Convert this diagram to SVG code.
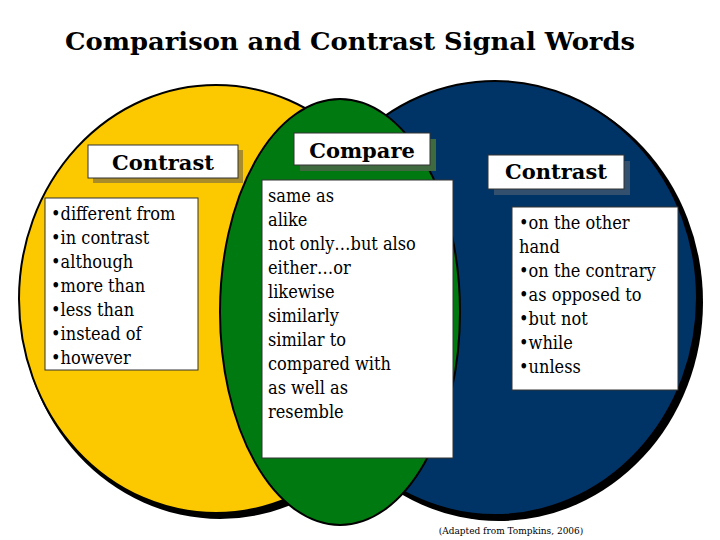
<svg xmlns="http://www.w3.org/2000/svg" width="720" height="540" viewBox="0 0 720 540">
<style>
.t{font-family:"DejaVu Serif Condensed","DejaVu Serif",serif;font-size:18px;fill:#000}
.h{font-family:"DejaVu Serif","Liberation Serif",serif;font-weight:bold;font-size:21px;fill:#000;text-anchor:middle}
.box{fill:#fff;stroke:#333;stroke-width:1}
.c{stroke:#000;stroke-width:2}
</style>
<rect width="720" height="540" fill="#fff"/>
<text x="350" y="50" class="h" style="font-size:25px" textLength="570" lengthAdjust="spacingAndGlyphs">Comparison and Contrast Signal Words</text>
<g id="left-circle">
<ellipse cx="220" cy="303" rx="200" ry="216" fill="#000"/>
<ellipse cx="216" cy="299" rx="197" ry="214" fill="#fcc800" class="c"/>
</g>
<g id="right-circle">
<ellipse cx="499" cy="302" rx="204" ry="219" fill="#000"/>
<ellipse cx="495" cy="298" rx="202" ry="217" fill="#003466" class="c"/>
</g>
<g id="middle-circle">
<ellipse cx="340" cy="312" rx="120" ry="213" fill="#007a10" class="c"/>
</g>
<g id="left-contrast">
<rect x="93" y="150" width="150" height="33" fill="#a88b2a"/>
<rect x="88" y="145" width="150" height="33" class="box"/>
<text x="163" y="170" class="h">Contrast</text>
<rect x="45" y="198" width="153" height="172" class="box"/>
<text class="t" x="51" y="220">•different from<tspan x="51" dy="24">•in contrast</tspan><tspan x="51" dy="24">•although</tspan><tspan x="51" dy="24">•more than</tspan><tspan x="51" dy="24">•less than</tspan><tspan x="51" dy="24">•instead of</tspan><tspan x="51" dy="24">•however</tspan></text>
</g>
<g id="compare">
<rect x="300" y="139" width="136" height="32" fill="#3f6a3f"/>
<rect x="294" y="133" width="136" height="32" class="box"/>
<text x="362" y="158" class="h">Compare</text>
<rect x="262" y="180" width="191" height="278" class="box"/>
<text class="t" x="268" y="202">same as<tspan x="268" dy="24">alike</tspan><tspan x="268" dy="24">not only…but also</tspan><tspan x="268" dy="24">either…or</tspan><tspan x="268" dy="24">likewise</tspan><tspan x="268" dy="24">similarly</tspan><tspan x="268" dy="24">similar to</tspan><tspan x="268" dy="24">compared with</tspan><tspan x="268" dy="24">as well as</tspan><tspan x="268" dy="24">resemble</tspan></text>
</g>
<g id="right-contrast">
<rect x="494" y="161" width="136" height="34" fill="#33506e"/>
<rect x="488" y="155" width="136" height="34" class="box"/>
<text x="556" y="179" class="h">Contrast</text>
<rect x="512" y="207" width="166" height="183" class="box"/>
<text class="t" x="519" y="229">•on the other<tspan x="519" dy="24">hand</tspan><tspan x="519" dy="24">•on the contrary</tspan><tspan x="519" dy="24">•as opposed to</tspan><tspan x="519" dy="24">•but not</tspan><tspan x="519" dy="24">•while</tspan><tspan x="519" dy="24">•unless</tspan></text>
</g>
<g id="connectors"/>
<text x="511" y="534" class="t" style="font-size:10px" text-anchor="middle">(Adapted from Tompkins, 2006)</text>
</svg>
